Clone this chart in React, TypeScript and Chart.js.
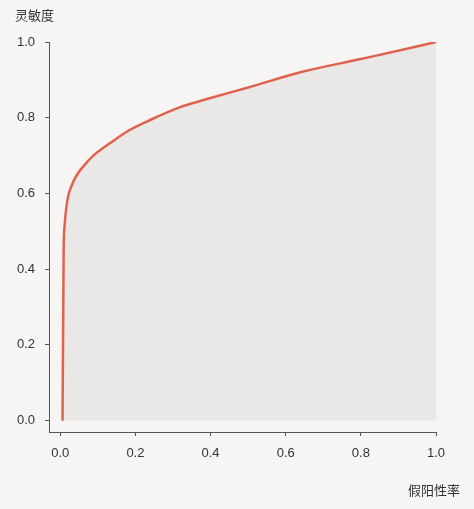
import React, { useEffect, useRef } from "react";
import { Chart, registerables } from "chart.js";

Chart.register(...registerables);

const fprValues = [0.006, 0.008, 0.009, 0.012, 0.019, 0.032, 0.045, 0.06, 0.088, 0.133, 0.18, 0.239, 0.319, 0.4, 0.5, 0.647, 0.8, 0.949, 1.0];
const tprValues = [0.0, 0.3, 0.45, 0.52, 0.583, 0.625, 0.65, 0.67, 0.7, 0.733, 0.765, 0.794, 0.828, 0.852, 0.88, 0.922, 0.955, 0.988, 1.0];
const tickValues = [0, 0.2, 0.4, 0.6, 0.8, 1.0];
const yTitle = "灵敏度";
const xTitle = "假阳性率";

export default function App() {
  const ref = useRef<HTMLCanvasElement | null>(null);

  useEffect(() => {
    document.body.style.margin = "0";
    const ctx = ref.current!;
    const points = fprValues.map((x, i) => ({ x, y: tprValues[i] }));
    const tickFont = { family: "'Liberation Sans', Arial, sans-serif", size: 13 };
    const chart = new Chart(ctx, {
      type: "scatter",
      data: {
        datasets: [
          {
            data: points,
            showLine: true,
            borderColor: "#e0624e",
            borderWidth: 2.5,
            backgroundColor: "#e9e8e7",
            fill: "origin",
            pointRadius: 0,
            cubicInterpolationMode: "monotone",
          },
        ],
      },
      options: {
        animation: false,
        responsive: false,
        maintainAspectRatio: false,
        layout: { padding: { top: 42, right: 38, left: 0, bottom: 0 } },
        plugins: { legend: { display: false }, tooltip: { enabled: false } },
        scales: {
          x: {
            type: "linear",
            min: -0.03,
            max: 1.0,
            afterBuildTicks: (s: any) => {
              s.ticks = tickValues.map((v) => ({ value: v }));
            },
            afterFit: (s: any) => {
              s.height = 77;
            },
            grid: { drawOnChartArea: false, drawTicks: true, tickLength: 4, color: "#555" },
            border: { display: true, color: "#555", width: 1 },
            ticks: {
              padding: 10,
              color: "#333",
              font: tickFont,
              maxRotation: 0,
              callback: (v: any) => Number(v).toFixed(1),
            },
          },
          y: {
            type: "linear",
            min: -0.03,
            max: 1.0,
            afterBuildTicks: (s: any) => {
              s.ticks = tickValues.map((v) => ({ value: v }));
            },
            afterFit: (s: any) => {
              s.width = 49;
            },
            grid: { drawOnChartArea: false, drawTicks: true, tickLength: 4, color: "#555" },
            border: { display: true, color: "#555", width: 1 },
            ticks: {
              padding: 10,
              color: "#333",
              font: tickFont,
              callback: (v: any) => Number(v).toFixed(1),
            },
          },
        },
      },
    } as any);
    return () => chart.destroy();
  }, []);

  const cjk = "'Noto Sans CJK SC', 'Noto Sans', sans-serif";
  return (
    <div style={{ position: "absolute", left: 0, top: 0, width: 474, height: 509, background: "#f6f5f4", overflow: "hidden" }}>
      <canvas ref={ref} width={474} height={509} style={{ position: "absolute", left: 0, top: 0, width: 474, height: 509 }} />
      <div style={{ position: "absolute", left: 15, top: 6, fontFamily: cjk, fontSize: 13, color: "#333", lineHeight: "18px" }}>{yTitle}</div>
      <div style={{ position: "absolute", left: 408, top: 481, fontFamily: cjk, fontSize: 13, color: "#333", lineHeight: "18px" }}>{xTitle}</div>
    </div>
  );
}
